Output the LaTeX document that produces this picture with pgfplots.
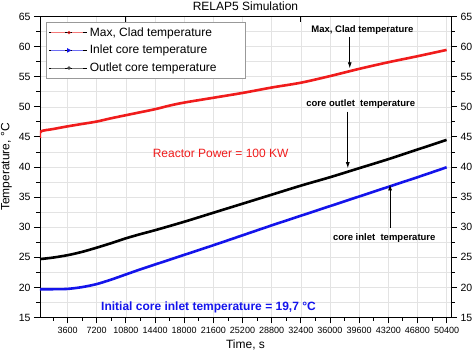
\documentclass[border=0pt]{standalone}
\usepackage{fontspec}
\setmainfont{Liberation Sans}
\usepackage{pgfplots}
\pgfplotsset{compat=1.18}
\usetikzlibrary{arrows.meta}
\definecolor{cred}{RGB}{240,28,28}
\definecolor{cblue}{RGB}{20,20,235}
\definecolor{lred}{RGB}{245,120,120}
\definecolor{lblue}{RGB}{110,110,245}
\definecolor{lgray}{RGB}{120,120,120}
\pgfplotsset{
  common/.style={
    scale only axis, width=411pt, height=301pt,
    xmin=200, xmax=50940, ymin=15, ymax=65,
    scaled x ticks=false, scaled y ticks=false,
    axis line style={black, line width=0.9pt},
    major tick length=6pt, minor tick length=3.5pt,
    every tick/.style={black, line width=0.8pt},
    /pgf/number format/assume math mode=true,
    /pgf/number format/1000 sep={},
    xticklabel style={font=\fontsize{9}{10}\selectfont},
    yticklabel style={font=\fontsize{10.5}{12}\selectfont},
  }
}
\begin{document}
\begin{tikzpicture}
\useasboundingbox (-40pt,-37.5pt) rectangle (434pt,317.5pt);
% right y labels
\begin{axis}[common,
  xtick=\empty,
  ytick={15,20,...,65}, minor ytick={17.5,22.5,...,62.5},
  ytick pos=right, yticklabel pos=right, tick align=outside]
\end{axis}
% top ticks inward
\begin{axis}[common,
  ytick=\empty,
  xtick={3600,7200,...,50400}, xticklabels={},
  xtick pos=top, tick align=inside]
\end{axis}
% main
\begin{axis}[common,
  xtick={3600,7200,...,50400},
  minor xtick={1800,5400,...,48600},
  ytick={15,20,...,65}, minor ytick={17.5,22.5,...,62.5},
  xtick pos=bottom, ytick pos=left, tick align=outside,
  xmajorgrids, ymajorgrids, yminorgrids,
  major grid style={gray!22, line width=0.5pt},
  minor grid style={gray!22, line width=0.5pt},
  title={RELAP5 Simulation},
  every axis title/.style={at={(0.5,1)}, anchor=center, yshift=10.5pt,
    font=\fontsize{12}{14}\selectfont},
  xlabel={Time, s},
  ylabel={Temperature, °C},
  label style={font=\fontsize{12}{14}\selectfont},
  legend style={at={(0,1)}, anchor=north west, xshift=5.7pt, yshift=-5.2pt,
    draw=gray!80, line width=0.8pt, font=\fontsize{12}{14}\selectfont,
    cells={anchor=west}, row sep=3.5pt, inner xsep=3pt, inner ysep=3.5pt},
]
\addlegendimage{legend image code/.code={
  \path (-2pt,0pt) -- (36pt,0pt);
  \draw[lred, line width=0.7pt] (0pt,0pt) -- (14pt,0pt);
  \draw[lred, line width=0.7pt] (21pt,0pt) -- (32pt,0pt);
  \draw[cred, line width=0.6pt] (17.5pt,0pt) circle (1.3pt);}}
\addlegendentry{\makebox[150pt][l]{Max, Clad temperature}}
\addlegendimage{legend image code/.code={
  \path (-2pt,0pt) -- (36pt,0pt);
  \draw[lblue, line width=0.7pt] (0pt,0pt) -- (14pt,0pt);
  \draw[lblue, line width=0.7pt] (21pt,0pt) -- (32pt,0pt);
  \fill[cblue] (16pt,1.6pt) -- (19pt,0pt) -- (16pt,-1.6pt) -- cycle;}}
\addlegendentry{Inlet core temperature}
\addlegendimage{legend image code/.code={
  \path (-2pt,0pt) -- (36pt,0pt);
  \draw[lgray, line width=0.7pt] (0pt,0pt) -- (14pt,0pt);
  \draw[lgray, line width=0.7pt] (21pt,0pt) -- (32pt,0pt);
  \fill[black!70] (17.5pt,0pt) circle (1.3pt);}}
\addlegendentry{Outlet core temperature}

\addplot[cred, line width=2.6pt, forget plot, smooth] coordinates {
(200,44.8) (300,45.9) (1800,46.3) (3600,46.75) (5400,47.15) (7200,47.55)
(9000,48.1) (10800,48.6) (12600,49.1) (14400,49.6) (16200,50.2) (18000,50.7)
(21600,51.5) (25200,52.3) (28800,53.2) (32400,54.0) (36000,55.1) (39600,56.3)
(43200,57.4) (46800,58.4) (50400,59.45)};
\addplot[black, line width=2.6pt, forget plot, smooth] coordinates {
(200,24.7) (1800,24.95) (3600,25.35) (5400,25.9) (7200,26.6) (9000,27.35)
(10800,28.15) (12600,28.85) (14400,29.5) (18000,30.9) (21600,32.4) (25200,33.9)
(28800,35.4) (32400,36.9) (36000,38.3) (39600,39.8) (43200,41.3) (46800,42.9)
(50400,44.5)};
\addplot[cblue, line width=2.6pt, forget plot, smooth] coordinates {
(200,19.7) (1800,19.7) (3600,19.75) (5400,20.05) (7200,20.55) (9000,21.3)
(10800,22.15) (12600,23.0) (14400,23.8) (18000,25.4) (21600,27.0) (25200,28.65)
(28800,30.3) (32400,31.9) (36000,33.5) (39600,35.1) (43200,36.7) (46800,38.3)
(50400,39.95)};

% annotations
\node[font=\fontsize{9.5}{11}\selectfont\bfseries] at (axis cs:40000,62.7) {Max, Clad temperature};
\draw[-{Latex[length=6pt,width=4pt]}, line width=0.8pt] (axis cs:38440,61.6) -- (axis cs:38440,56.4);
\node[font=\fontsize{9.5}{11}\selectfont\bfseries] at (axis cs:39800,50.5) {core outlet\ \ temperature};
\draw[-{Latex[length=6pt,width=4pt]}, line width=0.8pt] (axis cs:38200,49.2) -- (axis cs:38200,39.8);
\node[font=\fontsize{9.5}{11}\selectfont\bfseries] at (axis cs:42700,28.2) {core inlet\ \ temperature};
\draw[-{Latex[length=6pt,width=4pt]}, line width=0.8pt] (axis cs:43420,29.9) -- (axis cs:43420,37.1);
\node[text=cred, font=\fontsize{12}{14}\selectfont] at (axis cs:22500,42.2) {Reactor Power = 100 KW};
\node[text=cblue, font=\fontsize{12}{14}\selectfont\bfseries] at (axis cs:21000,16.7) {Initial core inlet temperature = 19,7 °C};
\end{axis}
\end{tikzpicture}
\end{document}
